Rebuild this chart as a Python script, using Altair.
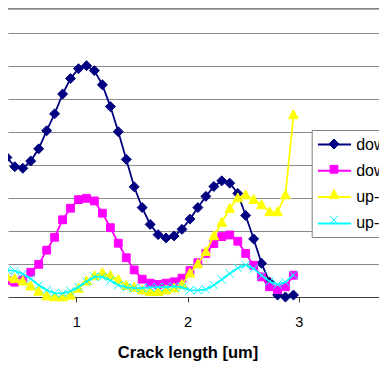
import altair as alt
import pandas as pd

# Crack length positions [um]
x_um = [0.303, 0.375, 0.446, 0.518, 0.589, 0.661, 0.733, 0.804, 0.876, 0.947,
        1.019, 1.091, 1.162, 1.234, 1.306, 1.377, 1.449, 1.520, 1.592, 1.664,
        1.735, 1.807, 1.879, 1.950, 2.022, 2.093, 2.165, 2.237, 2.308, 2.380,
        2.452, 2.523, 2.595, 2.666, 2.738, 2.810, 2.881, 2.953]

names = ["down-narrow", "down-broad", "up-narrow", "up-broad"]
marker_keys = ["m0", "m1", "m2", "m3"]
colors = ["#000080", "#FF00FF", "#FFFF00", "#00FFFF"]

down_narrow = [4.69, 4.23, 3.95, 3.90, 4.12, 4.49, 5.04, 5.55, 6.15, 6.62,
               6.92, 7.01, 6.86, 6.43, 5.77, 5.01, 4.17, 3.34, 2.71, 2.20,
               1.89, 1.79, 1.85, 2.05, 2.36, 2.71, 3.05, 3.35, 3.52, 3.45,
               3.14, 2.47, 1.76, 1.02, 0.45, 0.06, 0.00, 0.06]
down_broad = [0.75, 0.50, 0.45, 0.52, 0.75, 0.99, 1.42, 1.81, 2.34, 2.69,
              2.95, 2.99, 2.91, 2.54, 2.10, 1.63, 1.19, 0.82, 0.54, 0.42,
              0.38, 0.42, 0.46, 0.57, 0.80, 1.04, 1.32, 1.62, 1.83, 1.88,
              1.69, 1.32, 0.96, 0.61, 0.31, 0.22, 0.31, 0.66]
up_narrow = [0.67, 0.61, 0.55, 0.48, 0.33, 0.17, 0.03, 0.00, 0.00, 0.05,
             0.26, 0.48, 0.64, 0.73, 0.65, 0.52, 0.35, 0.29, 0.21, 0.16,
             0.16, 0.21, 0.27, 0.38, 0.72, 1.00, 1.37, 1.85, 2.26, 2.68,
             3.00, 3.09, 2.95, 2.79, 2.58, 2.58, 3.09, 5.52]
up_broad = [0.82, 0.82, 0.79, 0.70, 0.55, 0.36, 0.21, 0.12, 0.11, 0.18,
            0.30, 0.47, 0.61, 0.61, 0.50, 0.36, 0.29, 0.27, 0.27, 0.29,
            0.30, 0.30, 0.32, 0.29, 0.21, 0.20, 0.23, 0.36, 0.53, 0.71,
            0.88, 0.97, 0.86, 0.65, 0.47, 0.38, 0.45, 0.67]

grid_values = [1, 2, 3, 4, 5, 6, 7, 8]
x_ticks = [1, 2, 3]

rows = []
for name, key, vals in zip(names, marker_keys,
                           [down_narrow, down_broad, up_narrow, up_broad]):
    for xv, yv in zip(x_um, vals):
        rows.append({"x": xv, "v": yv, "series": name, "marker": key})
df = pd.DataFrame(rows)

W, H = 371, 289
FONT = "Liberation Sans"

SYM = 275  # symbol unit = sqrt(SYM)/2 ~ 8.3 px
shapes = [
    "M-0.60,0L0,-0.60L0.60,0L0,0.60Z",
    "M-0.47,-0.47L0.47,-0.47L0.47,0.47L-0.47,0.47Z",
    "M0,-0.62L0.58,0.46L-0.58,0.46Z",
    "M-0.5,-0.5L0.5,0.5M-0.5,0.5L0.5,-0.5",
]
LEG_X, LEG_Y = 303.7, 122

xenc = alt.X("x:Q",
             scale=alt.Scale(domain=[0.3848, 3.7226], nice=False, zero=False),
             axis=alt.Axis(values=x_ticks, format="d", grid=False,
                           domainColor="#404040", tickColor="#404040",
                           tickSize=5, labelFontSize=14.5, labelPadding=13.5,
                           labelFont=FONT, labelColor="black",
                           title="Crack length [um]", titleFont=FONT,
                           titleFontSize=16.5, titleFontWeight="bold",
                           titleColor="black", titleX=179.5, titleY=60,
                           titleBaseline="alphabetic", titleAlign="center"))
yenc = alt.Y("v:Q",
             scale=alt.Scale(domain=[0, 8.758], nice=False, zero=False),
             axis=alt.Axis(values=grid_values, grid=True, gridColor="#8a8a8a",
                           gridWidth=1, labels=False, ticks=False, domain=False,
                           title=None))

leg_common = dict(orient="none", legendY=LEG_Y, padding=5,
                  title=None, direction="vertical", symbolSize=SYM,
                  labelFont=FONT, labelFontSize=16, labelColor="black",
                  rowPadding=8.3, labelLimit=300)
leg_line = alt.Legend(legendX=LEG_X, symbolType="M-1,0L3,0",
                      symbolStrokeWidth=2, labelOffset=20.5,
                      strokeColor="#808080", fillColor="white", **leg_common)
leg_mark = alt.Legend(legendX=LEG_X + 8.3, symbolStrokeWidth=1,
                      labelOffset=3, labelExpr="' '", labelOpacity=0,
                      **leg_common)

cscale = alt.Scale(domain=names, range=colors)
mscale = alt.Scale(domain=marker_keys, range=colors)
sscale = alt.Scale(domain=marker_keys, range=shapes)

base = alt.Chart(df).encode(x=xenc, y=yenc)
layers = []
for name in names:
    b = base.transform_filter(alt.datum.series == name)
    layers.append(b.mark_line(strokeWidth=1.8).encode(
        color=alt.Color("series:N", scale=cscale, legend=leg_line)))
    layers.append(b.mark_point(size=SYM, strokeWidth=1, opacity=1).encode(
        shape=alt.Shape("marker:N", scale=sscale, legend=leg_mark),
        fill=alt.Fill("marker:N", scale=mscale, legend=leg_mark),
        stroke=alt.Stroke("marker:N", scale=mscale, legend=leg_mark)))

top = alt.Chart(pd.DataFrame({"t": [8.73]})).mark_rule(
    color="#333333", strokeWidth=1).encode(y=alt.Y("t:Q"))

chart = alt.layer(top, *layers).properties(
    width=W, height=H,
    autosize=alt.AutoSizeParams(type="none"),
    padding={"left": 0, "top": 0, "right": 0, "bottom": 82},
).configure_view(stroke=None)

chart.save("out.html", embed_options={"renderer": "svg", "actions": False})
